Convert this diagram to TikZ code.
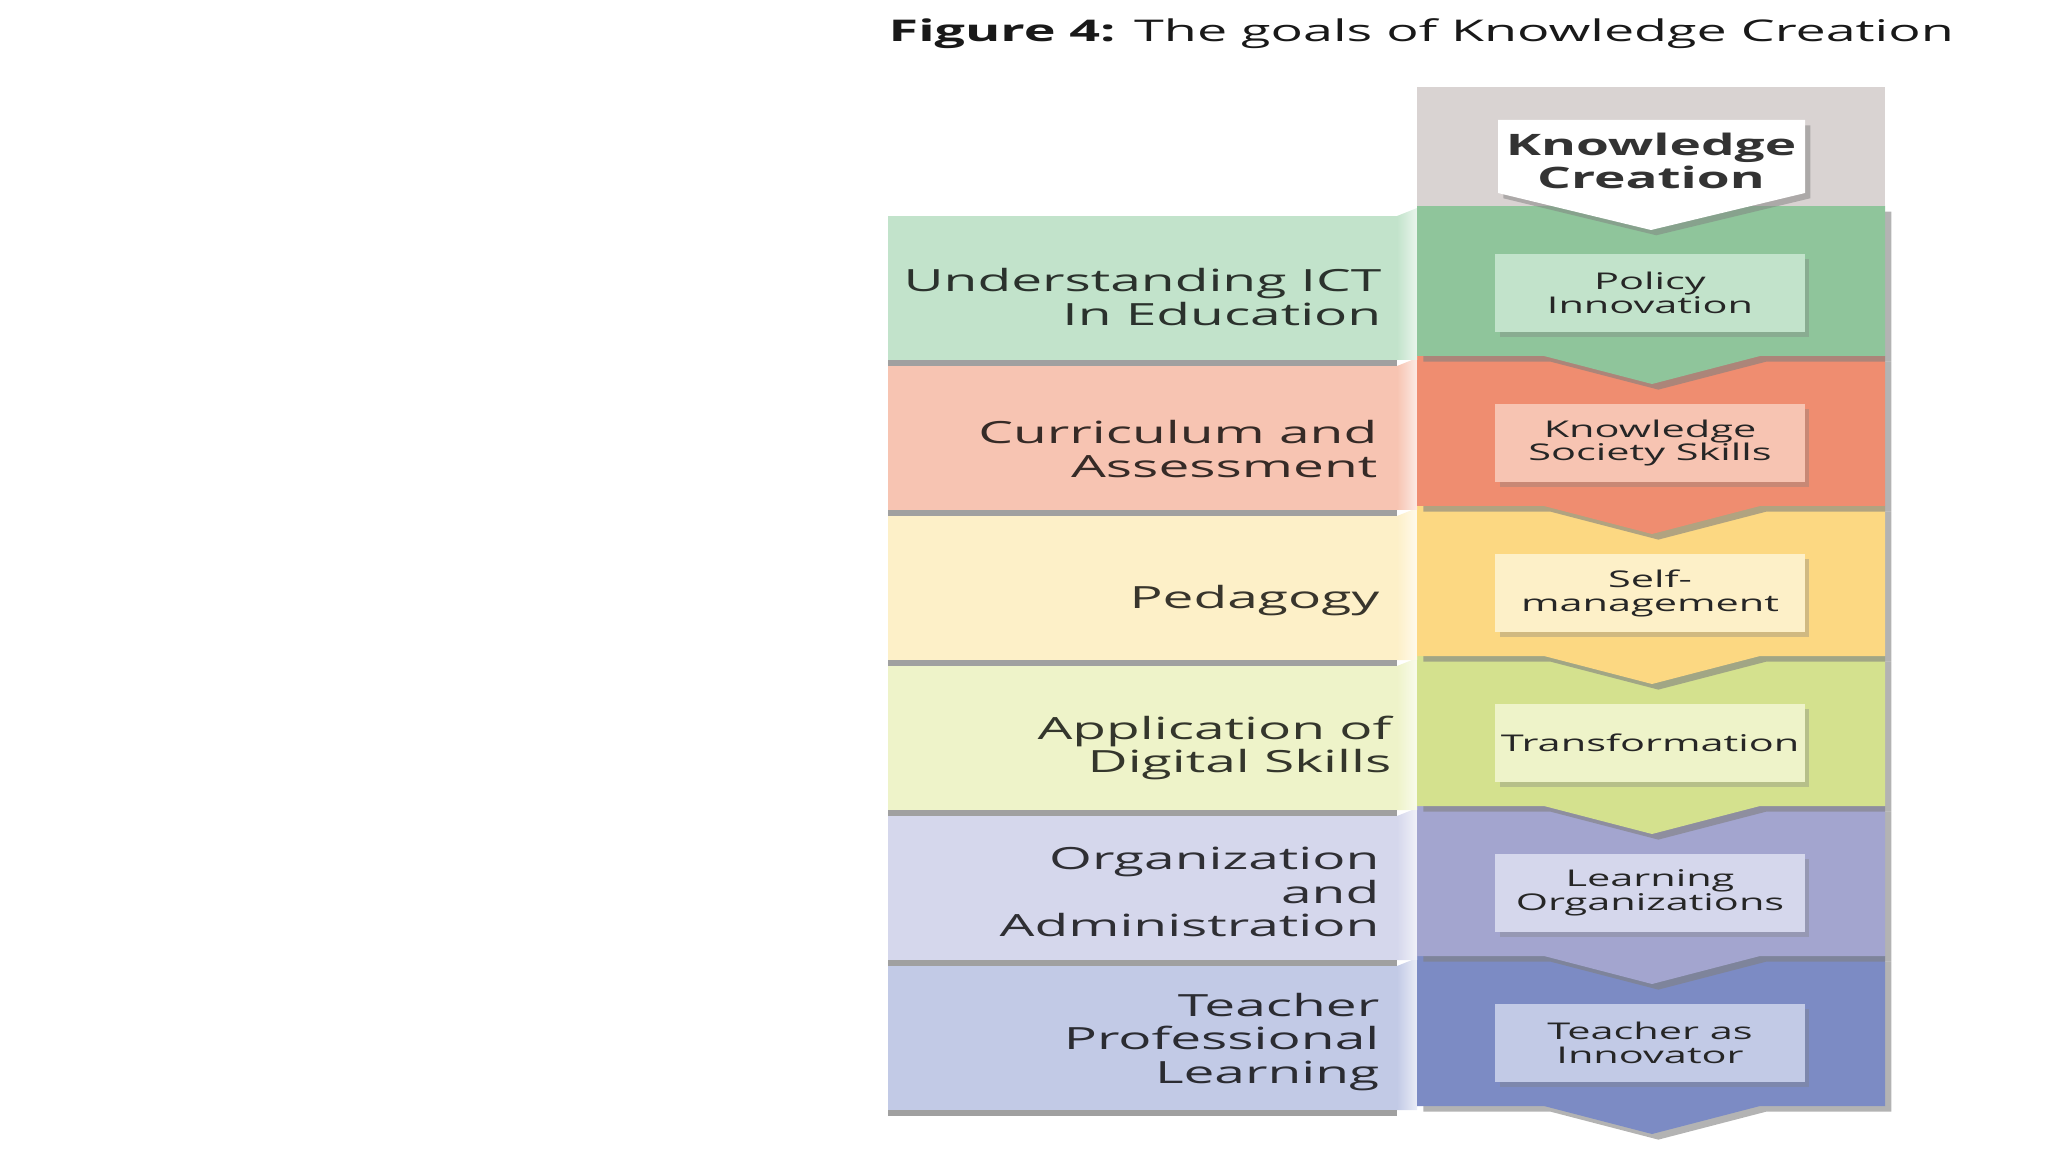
\documentclass[tikz,border=0pt]{standalone}
\usepackage{fontspec}
\setmainfont{Open Sans}[FakeStretch=1.8]
\usetikzlibrary{shadows}
\definecolor{kcgray}{HTML}{D9D3D2}
\definecolor{ictleft}{HTML}{C2E3CB}
\definecolor{ictband}{HTML}{8FC59B}
\definecolor{curleft}{HTML}{F7C4B2}
\definecolor{curband}{HTML}{EF8D70}
\definecolor{pedleft}{HTML}{FDF0C8}
\definecolor{pedband}{HTML}{FCD882}
\definecolor{digleft}{HTML}{EEF3C9}
\definecolor{digband}{HTML}{D4E18E}
\definecolor{orgleft}{HTML}{D5D7EC}
\definecolor{orgband}{HTML}{A3A5CF}
\definecolor{tplleft}{HTML}{C2CAE6}
\definecolor{tplband}{HTML}{7C8BC4}
% #1 top of band, #2 light colour, #3 band colour, #4 name, #5 area, #6 goal, #7 #8 place of area text
\newcommand{\goalrow}[8]{%
  \fill[#2, drop shadow={shadow xshift=0pt, shadow yshift=-1.6pt, opacity=.75}] (888,#1+10) rectangle (1397,#1+154);
  \shade[left color=#2, right color=#2!35!white] (1397,#1+10) -- (1417,#1+2) -- (1417,#1+154) -- (1397,#1+154) -- cycle;
  \fill[#3, drop shadow={shadow xshift=1.8pt, shadow yshift=-1.6pt, opacity=.6}] (1417,#1) -- (1885,#1) -- (1885,#1+150) -- (1760,#1+150) -- (1652,#1+178) -- (1544,#1+150) -- (1417,#1+150) -- cycle;
  \node[goalbox, fill=#2] (#4goal) at (1650,#1+87) {#6};
  \node[arealabel, text=#2!22!black] (#4area) at (#7,#1+#8) {#5};
}

\begin{document}
\begin{tikzpicture}[x=0.01cm, y=-0.01cm,
    arealabel/.style={anchor=east, align=right, inner sep=0pt, font=\fontsize{8.7}{9.6}\selectfont},
    goalbox/.style={minimum width=3.09cm, minimum height=0.78cm, inner sep=0pt, align=center,
      text=black!85, font=\fontsize{6.55}{6.8}\selectfont,
      drop shadow={shadow xshift=1.3pt, shadow yshift=-1.3pt, opacity=.35}}]
        \useasboundingbox (0,0) rectangle (2048,1152);
        % title
        \node[anchor=west, inner sep=0pt, text=black!90, font=\fontsize{8.5}{9}\selectfont] (title) at (888,34)
            {\textbf{Figure 4:} The goals of Knowledge Creation};
        % row 6
        \goalrow{956}{tplleft}{tplband}{tpl}{Teacher\\Professional\\Learning}{Teacher as\\Innovator}{1380}{86}
        % row 5
        \goalrow{806}{orgleft}{orgband}{org}{Organization\\and\\Administration}{Learning\\Organizations}{1380}{86}
        % row 4
        \goalrow{656}{digleft}{digband}{dig}{Application of\\Digital Skills}{Transformation}{1392}{92}
        % row 3
        \goalrow{506}{pedleft}{pedband}{ped}{Pedagogy}{Self-\\management}{1380}{95}
        % row 2
        \goalrow{356}{curleft}{curband}{cur}{Curriculum and\\Assessment}{Knowledge\\Society Skills}{1378}{93}
        % row 1
        \goalrow{206}{ictleft}{ictband}{ict}{Understanding ICT\\In Education}{Policy\\Innovation}{1382}{91}
        % knowledge creation head
        \fill[kcgray] (1417,87) rectangle (1885,206);
        \fill[white, drop shadow={shadow xshift=1.5pt, shadow yshift=-1.5pt, opacity=.5}] (1498,120) -- (1805,120) -- (1805,193) -- (1651,230) -- (1498,193) -- cycle;
        \node[align=center, inner sep=0pt, text=black!80, font=\bfseries\fontsize{8.4}{9.4}\selectfont] (kc) at (1651,161) {Knowledge\\Creation};
    \end{tikzpicture}
\end{document}
